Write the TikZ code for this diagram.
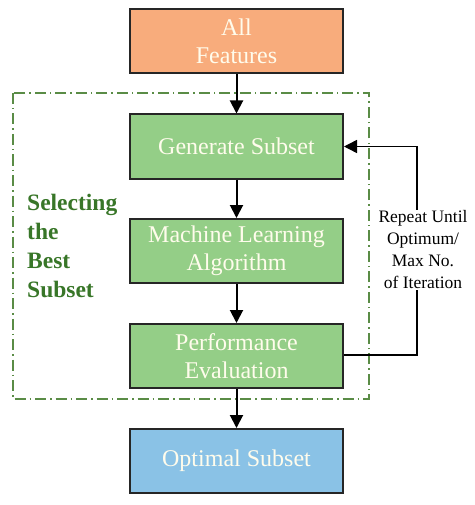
\documentclass[tikz,border=0pt]{standalone}
\usepackage{fontspec}
\setmainfont{Liberation Serif}
\usetikzlibrary{arrows.meta}
\definecolor{orangefill}{RGB}{248,172,124}
\definecolor{greenfill}{RGB}{148,206,135}
\definecolor{bluefill}{RGB}{138,194,230}
\definecolor{darkgreen}{RGB}{56,118,40}
\definecolor{dashgreen}{RGB}{90,140,70}
\definecolor{boxtext}{RGB}{255,252,236}
\tikzset{
  box/.style={draw=black!85, line width=2pt, minimum width=213pt, minimum height=64pt,
    text=boxtext, font=\fontsize{24}{28}\selectfont, align=center, inner sep=0pt},
  conn/.style={line width=2pt, -{Triangle[width=13pt,length=13pt]}},
  fbline/.style={line width=1.5pt, -{Triangle[width=13pt,length=13pt]}},
  group/.style={draw=dashgreen, line width=1.3pt, dash pattern=on 11pt off 4pt on 1.5pt off 4pt},
  grouplabel/.style={text=darkgreen, font=\bfseries\fontsize{23.5}{29}\selectfont, align=left, inner sep=0pt},
  looplabel/.style={fill=white, font=\fontsize{17.5}{22}\selectfont, align=center, inner sep=1pt}
}
\begin{document}
\begin{tikzpicture}[x=1pt,y=-1pt]
\useasboundingbox (0,0) rectangle (474,505);
\draw[group] (13,93) rectangle (369,399);
\node[box, fill=orangefill] (all) at (236.5,41) {All\\Features};
\node[box, fill=greenfill] (gen) at (236.5,146.5) {Generate Subset};
\node[box, fill=greenfill] (ml) at (236.5,251) {Machine Learning\\Algorithm};
\node[box, fill=greenfill] (pe) at (236.5,356) {Performance\\Evaluation};
\node[box, fill=bluefill] (opt) at (236.5,461) {Optimal Subset};
\node[grouplabel, anchor=west] (sel) at (27,246) {Selecting\\the\\Best\\Subset};
\draw[conn] (all) -- (gen);
\draw[conn] (gen) -- (ml);
\draw[conn] (ml) -- (pe);
\draw[conn] (pe) -- (opt);
\coordinate (fb) at (417,355);
\draw[fbline] (pe.east |- fb) -- (fb) |- (gen.east);
\node[looplabel] (lab) at (423,250) {Repeat Until\\Optimum/\\Max No.\\of Iteration};
\end{tikzpicture}
\end{document}
